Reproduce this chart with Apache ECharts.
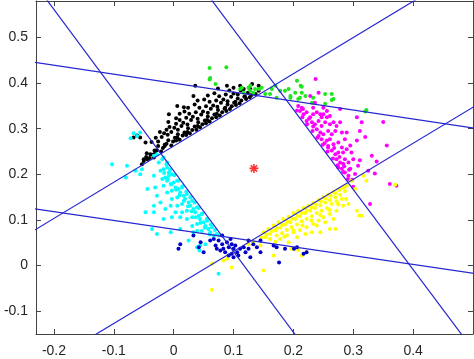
<!DOCTYPE html>
<html><head><meta charset="utf-8">
<script src="https://cdn.jsdelivr.net/npm/echarts@6/dist/echarts.min.js"></script>
<style>html,body{margin:0;padding:0;background:#fff}#c{width:474px;height:359px}</style>
</head><body><div id="c"></div>
<script>
const xTicks = [-0.2,-0.1,0,0.1,0.2,0.3,0.4];
const yTicks = [-0.1,0,0.1,0.2,0.3,0.4,0.5];
const xRange = [-0.23, 0.5];
const yRange = [-0.15, 0.58];

const blackPts = [
[-0.050,0.229],[-0.040,0.236],[-0.031,0.247],[-0.021,0.250],[-0.015,0.262],[-0.004,0.263],[0.004,0.274],[0.010,0.276],[0.021,0.286],[0.027,0.290],[0.038,0.298],[0.044,0.303],[0.054,0.312],[0.060,0.316],[0.071,0.325],[0.077,0.329],[0.088,0.339],[0.094,0.343],[0.104,0.352],[0.110,0.356],[0.121,0.365],[0.127,0.369],[0.137,0.376],
[-0.046,0.238],[-0.035,0.243],[-0.028,0.253],[-0.018,0.258],[-0.012,0.267],[-0.001,0.272],[0.006,0.281],[0.015,0.285],[0.023,0.293],[0.031,0.297],[0.040,0.306],[0.048,0.310],[0.056,0.319],[0.064,0.323],[0.072,0.333],[0.081,0.336],[0.086,0.346],[0.097,0.349],[0.103,0.359],[0.113,0.362],[0.119,0.371],[0.130,0.374],
[-0.045,0.246],[-0.032,0.252],[-0.026,0.262],[-0.015,0.265],[-0.009,0.275],[0.002,0.280],[0.007,0.288],[0.018,0.292],[0.024,0.301],[0.035,0.305],[0.041,0.314],[0.052,0.318],[0.057,0.327],[0.068,0.331],[0.074,0.341],[0.085,0.344],[0.090,0.353],[0.101,0.357],[0.107,0.366],[0.118,0.370],[0.124,0.379],
[-0.037,0.271],[-0.026,0.272],[-0.020,0.282],[-0.010,0.287],[-0.004,0.293],[0.007,0.298],[0.013,0.306],[0.023,0.309],[0.029,0.319],[0.040,0.322],[0.046,0.331],[0.057,0.335],[0.062,0.344],[0.073,0.348],[0.079,0.357],[0.090,0.360],[0.096,0.370],[0.107,0.375],[0.112,0.384],
[-0.030,0.280],[-0.016,0.290],[0.001,0.302],[0.016,0.313],[0.032,0.326],[0.049,0.338],[0.066,0.351],[0.083,0.364],[0.100,0.377],[0.117,0.387],
[-0.023,0.293],[-0.012,0.298],[-0.007,0.304],[0.004,0.311],[0.010,0.319],[0.021,0.324],[0.026,0.333],[0.037,0.336],[0.043,0.346],[0.054,0.349],[0.060,0.359],[0.071,0.362],[0.076,0.371],[0.087,0.375],[0.093,0.384],
[-0.009,0.315],[0.004,0.323],[0.010,0.333],[0.018,0.338],[0.024,0.346],[0.035,0.353],[0.040,0.362],[0.051,0.364],[0.057,0.373],[0.068,0.378],[0.074,0.388],
[-0.067,0.281],[-0.056,0.281],[-0.047,0.270],[-0.061,0.285],[0.006,0.350],[0.017,0.347],[-0.008,0.332],[0.033,0.372],[0.036,0.394],[0.111,0.394],[0.131,0.398],[0.142,0.394],[0.089,0.394],[0.100,0.390],[0.142,0.383],[0.128,0.387],[-0.039,0.244],[-0.033,0.237],[-0.044,0.233],[-0.053,0.222],[-0.050,0.233]
];
const greenPts = [
[0.060,0.433],[0.088,0.435],[0.060,0.408],[0.070,0.398],[0.111,0.387],[0.114,0.390],[0.125,0.390],[0.128,0.383],[0.133,0.379],[0.142,0.387],[0.147,0.390],[0.128,0.394],[0.117,0.379],[0.136,0.387],[0.164,0.387],[0.170,0.394],[0.178,0.383],[0.186,0.383],[0.192,0.387],[0.195,0.368],[0.203,0.379],[0.208,0.365],[0.214,0.379],[0.206,0.405],[0.220,0.372],[0.233,0.368],[0.253,0.376],[0.264,0.376],[0.267,0.365],[0.172,0.368],[0.161,0.376],[0.153,0.376],[0.322,0.341],[0.320,0.338],[0.214,0.392],[0.264,0.363],[0.253,0.355],[0.231,0.357],[0.211,0.368],[0.195,0.372],[0.061,0.411],[0.212,0.394]
];
const magentaPts = [
[0.242,0.379],[0.228,0.372],[0.278,0.343],[0.306,0.325],[0.314,0.314],[0.350,0.315],[0.311,0.295],[0.320,0.282],[0.289,0.292],[0.281,0.292],[0.306,0.274],[0.356,0.263],[0.331,0.241],[0.339,0.228],[0.325,0.208],[0.336,0.202],[0.311,0.231],[0.300,0.233],[0.308,0.219],[0.295,0.212],[0.303,0.201],[0.292,0.197],[0.275,0.215],[0.283,0.223],[0.361,0.179],[0.372,0.175],
[0.211,0.339],[0.217,0.332],[0.222,0.336],[0.228,0.325],[0.233,0.332],[0.239,0.336],[0.245,0.332],[0.250,0.332],[0.256,0.339],[0.222,0.317],[0.231,0.314],[0.236,0.310],[0.242,0.317],[0.247,0.306],[0.253,0.314],[0.261,0.310],[0.267,0.314],[0.272,0.306],[0.278,0.314],[0.239,0.299],[0.245,0.292],[0.250,0.288],[0.258,0.295],[0.264,0.288],[0.270,0.295],[0.247,0.277],[0.256,0.274],[0.261,0.277],[0.267,0.266],[0.275,0.270],[0.281,0.259],[0.258,0.259],[0.264,0.252],[0.270,0.244],[0.275,0.248],[0.283,0.248],[0.289,0.255],[0.272,0.233],[0.278,0.226],[0.286,0.233],[0.292,0.226],[0.281,0.212],[0.286,0.204],[0.208,0.350],[0.214,0.346],[0.233,0.346],[0.250,0.346],[0.236,0.357],[0.256,0.325],[0.286,0.277],[0.295,0.263],[0.297,0.248],[0.247,0.325],[0.261,0.328],
[0.206,0.340],[0.216,0.343],[0.215,0.325],[0.226,0.322],[0.223,0.310],[0.233,0.305],[0.232,0.295],[0.242,0.284],[0.240,0.280],[0.252,0.268],[0.249,0.265],[0.258,0.262],[0.257,0.250],[0.268,0.258],[0.266,0.235],[0.277,0.238],[0.274,0.220],[0.285,0.218],[0.283,0.205],[0.293,0.210],[0.291,0.190],[0.298,0.188],
[0.237,0.409],[0.328,0.135],[0.300,0.173]
];
const yellowPts = [
[0.150,0.073],[0.158,0.080],[0.167,0.088],[0.175,0.095],[0.183,0.102],[0.192,0.107],[0.200,0.115],[0.208,0.120],[0.217,0.126],[0.225,0.131],[0.233,0.137],[0.242,0.144],[0.250,0.150],[0.258,0.155],[0.267,0.161],[0.275,0.166],[0.283,0.171],[0.289,0.175],
[0.146,0.062],[0.155,0.068],[0.164,0.076],[0.172,0.082],[0.181,0.089],[0.190,0.096],[0.198,0.103],[0.206,0.109],[0.214,0.115],[0.222,0.122],[0.230,0.128],[0.238,0.134],[0.246,0.141],[0.254,0.147],[0.262,0.153],[0.270,0.159],[0.278,0.166],[0.285,0.171],
[0.153,0.062],[0.161,0.069],[0.170,0.077],[0.178,0.083],[0.186,0.090],[0.195,0.095],[0.203,0.102],[0.211,0.108],[0.220,0.115],[0.228,0.120],[0.236,0.126],[0.245,0.132],[0.253,0.138],[0.261,0.144],[0.270,0.150],[0.278,0.155],[0.286,0.163],
[0.161,0.058],[0.172,0.066],[0.181,0.071],[0.189,0.078],[0.197,0.084],[0.206,0.090],[0.214,0.097],[0.222,0.102],[0.231,0.108],[0.239,0.115],[0.247,0.120],[0.256,0.126],[0.264,0.135],[0.272,0.141],[0.281,0.146],
[0.170,0.052],[0.185,0.063],[0.200,0.077],[0.215,0.088],[0.230,0.099],[0.245,0.111],[0.260,0.122],[0.275,0.134],[0.288,0.146],
[0.178,0.058],[0.189,0.066],[0.200,0.073],[0.211,0.078],[0.222,0.084],[0.233,0.091],[0.242,0.099],[0.250,0.106],[0.261,0.113],[0.272,0.120],[0.283,0.131],
[0.192,0.051],[0.206,0.062],[0.220,0.069],[0.231,0.073],[0.245,0.073],[0.261,0.080],[0.270,0.080],[0.239,0.088],[0.253,0.095],[0.267,0.102],[0.292,0.135],[0.275,0.135],[0.306,0.120],[0.314,0.109],[0.303,0.168],[0.297,0.186],[0.322,0.186],[0.317,0.197],
[0.167,0.022],[0.197,0.037],[0.208,0.034],[0.214,0.022],[0.222,0.029],[0.150,-0.011],[0.097,-0.004],[0.083,0.011],[0.145,0.044],[0.133,0.051],[0.125,0.047],
[0.370,0.177],[0.064,0.004],[0.064,-0.053],[0.310,0.110],[0.089,0.015]
];
const cyanPts = [
[-0.019,0.233],[-0.025,0.226],[-0.011,0.215],[-0.017,0.211],[-0.022,0.208],[-0.008,0.204],[-0.003,0.200],[-0.008,0.197],[-0.014,0.193],[-0.019,0.190],[0.006,0.186],[0.000,0.182],[-0.005,0.179],[-0.011,0.186],[-0.017,0.175],[0.014,0.171],[0.008,0.168],[0.003,0.171],[-0.003,0.164],[-0.011,0.160],[0.022,0.157],[0.017,0.153],[0.011,0.160],[0.006,0.149],[-0.003,0.146],[0.031,0.142],[0.025,0.138],[0.019,0.146],[0.014,0.135],[0.006,0.131],[-0.005,0.131],[0.039,0.128],[0.033,0.124],[0.028,0.131],[0.022,0.120],[0.014,0.117],[0.003,0.117],[0.047,0.113],[0.042,0.109],[0.036,0.117],[0.031,0.106],[0.022,0.102],[0.011,0.106],[0.056,0.098],[0.050,0.095],[0.044,0.102],[0.039,0.091],[0.031,0.087],[0.064,0.084],[0.058,0.080],[0.053,0.087],[0.047,0.076],[0.039,0.076],[0.072,0.069],[0.067,0.066],[0.061,0.073],
[-0.012,0.222],[-0.006,0.210],[-0.016,0.203],[0.001,0.198],[-0.010,0.190],[0.008,0.186],[-0.004,0.178],[0.015,0.174],[0.004,0.166],[0.021,0.162],[0.010,0.154],[0.028,0.150],[0.017,0.142],[0.035,0.138],[0.024,0.130],[0.042,0.126],[0.030,0.119],[0.048,0.114],[0.037,0.106],[0.055,0.102],[0.045,0.094],[0.062,0.090],[0.052,0.083],[0.069,0.078],[0.060,0.068],[0.076,0.066],
[-0.103,0.222],[-0.078,0.219],[-0.064,0.208],[-0.056,0.200],[-0.053,0.211],[-0.033,0.197],[-0.031,0.171],[-0.044,0.168],[-0.028,0.153],[-0.022,0.138],[-0.033,0.131],[-0.047,0.117],[-0.033,0.117],[-0.014,0.124],[-0.003,0.106],[-0.017,0.102],[-0.036,0.080],[-0.028,0.069],[0.011,0.080],[-0.005,0.073],[0.033,0.073],[0.025,0.055],[0.044,0.044],[0.039,0.040],[0.053,0.047],[0.075,-0.018],[0.043,0.033],[-0.080,0.193],[-0.061,0.284],[-0.072,0.279],[-0.056,0.292],[-0.067,0.290],[-0.011,0.226],[-0.033,0.241],[-0.028,0.244],[-0.017,0.237]
];
const bluePts = [
[0.011,0.047],[0.008,0.037],[0.045,0.051],[0.042,0.040],[0.050,0.029],[0.033,0.066],[0.061,0.055],[0.067,0.058],[0.072,0.037],[0.070,0.044],[0.075,0.055],[0.081,0.047],[0.083,0.037],[0.078,0.033],[0.086,0.029],[0.089,0.051],[0.092,0.040],[0.095,0.058],[0.097,0.047],[0.100,0.037],[0.103,0.044],[0.106,0.029],[0.111,0.037],[0.092,0.022],[0.097,0.026],[0.100,0.018],[0.108,0.022],[0.117,0.040],[0.120,0.029],[0.125,0.037],[0.128,0.018],[0.139,0.040],[0.145,0.029],[0.145,0.055],[0.167,0.044],[0.172,0.040],[0.186,0.037],[0.206,0.040],[0.217,0.026],[0.222,0.029],[0.125,0.055],[0.081,0.066],[0.133,0.047],[0.176,0.007],[0.201,0.037]
];
const centerPt = [[0.134, 0.213]];

const lineA = [[-0.2218,0.6],[0.2304,-0.2]];
const lineB = [[0.0531,0.6],[0.5089,-0.2]];
const lineC = [[-0.3,0.4588],[0.6,0.2819]];
const lineD = [[-0.3,0.1376],[0.6,-0.0361]];
const lineE = [[-0.3,0.0241],[0.4262,0.6]];
const lineF = [[-0.1925,-0.2],[0.6,0.4261]];

const axisColor = '#444';
const fmt = v => String(Math.round(v*10)/10);
const labelStyle = {fontSize:14, color:'#262626', fontFamily:'Liberation Sans, Arial, sans-serif'};

function xAx(pos, show){
  return {type:'value', min:xRange[0], max:xRange[1], position:pos,
    splitLine:{show:false},
    axisLine:{show:true, onZero:false, lineStyle:{color:axisColor, width:1}},
    axisTick:{show:true, inside:true, length:5, customValues:xTicks, lineStyle:{color:axisColor}},
    axisLabel:Object.assign({show:show, customValues:xTicks, formatter:fmt, margin:10}, labelStyle)};
}
function yAx(pos, show){
  return {type:'value', min:yRange[0], max:yRange[1], position:pos,
    splitLine:{show:false},
    axisLine:{show:true, onZero:false, lineStyle:{color:axisColor, width:1}},
    axisTick:{show:true, inside:true, length:5, customValues:yTicks, lineStyle:{color:axisColor}},
    axisLabel:Object.assign({show:show, customValues:yTicks, formatter:fmt, margin:8}, labelStyle)};
}

function sc(data, color){
  return {type:'scatter', data:data, symbolSize:4, itemStyle:{color:color, opacity:1}, silent:true};
}
function ln(data){
  return {type:'line', data:data, showSymbol:false, symbol:'none', clip:true,
    lineStyle:{color:'#2626d0', width:1.2}, silent:true};
}

const chart = echarts.init(document.getElementById('c'), null, {renderer:'canvas'});
chart.setOption({
  animation:false,
  backgroundColor:'#fff',
  grid:{left:36, right:1, top:1, bottom:25, containLabel:false},
  xAxis:[xAx('bottom', true), xAx('top', false)],
  yAxis:[yAx('left', true), yAx('right', false)],
  series:[
    sc(blackPts,'#000000'),
    sc(greenPts,'#1ee61e'),
    sc(magentaPts,'#ff00ff'),
    sc(yellowPts,'#ffff00'),
    sc(cyanPts,'#00ffff'),
    sc(bluePts,'#0000c8'),
    ln(lineA), ln(lineB), ln(lineC), ln(lineD), ln(lineE), ln(lineF),
    {type:'scatter', data:centerPt, symbol:'path://M5,0L5,10M0,5L10,5M1.5,1.5L8.5,8.5M1.5,8.5L8.5,1.5',
      symbolSize:9, itemStyle:{color:'none', borderColor:'#ff0000', borderWidth:1.6}, silent:true}
  ]
});
</script>
</body></html>
